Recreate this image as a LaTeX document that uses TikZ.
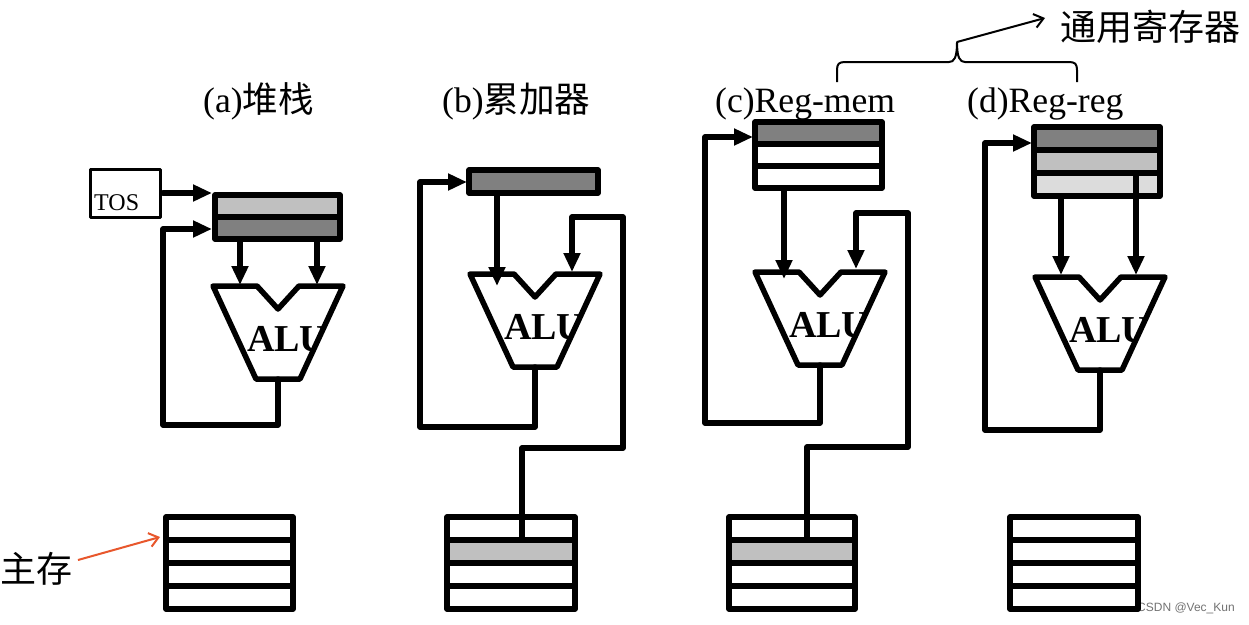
\documentclass[tikz,border=0pt]{standalone}
\usepackage{fontspec}
\setmainfont{Liberation Serif}
\newfontfamily\cjk{Noto Sans CJK SC}
\newfontfamily\wmfont{Liberation Sans}
\usetikzlibrary{arrows.meta}
\definecolor{darkreg}{HTML}{808080}
\definecolor{midreg}{HTML}{C0C0C0}
\definecolor{lightreg}{HTML}{DCDCDC}
\definecolor{memarrow}{HTML}{E8572C}
\tikzset{
  wire/.style={line width=5.5pt, line join=round, line cap=round},
  arr/.style={wire, -{Triangle[length=19pt,width=16pt]}},
  box/.style={line width=5.5pt, line join=round},
  alutext/.style={font=\fontsize{38}{40}\selectfont\bfseries, inner sep=0pt},
  lab/.style={font=\fontsize{35.6}{40}\selectfont, inner sep=0pt},
  thinline/.style={line width=2pt, line join=round},
}
\newcommand\drawalu[3]{%
  \coordinate (#3-top) at (#1,#2);
  \coordinate (#3-bot) at (#1,{#2+93});
  \begin{scope}
    \clip ({#1-65},#2) -- ({#1-21},#2) -- (#1,{#2+23}) -- ({#1+21},#2) -- ({#1+65},#2) -- ({#1+22},{#2+93}) -- ({#1-22},{#2+93}) -- cycle;
    \node[alutext, anchor=base west] (#3-txt) at ({#1-31},{#2+65}) {ALU};
  \end{scope}
  \draw[box] ({#1-65},#2) -- ({#1-21},#2) -- (#1,{#2+23}) -- ({#1+21},#2) -- ({#1+65},#2) -- ({#1+22},{#2+93}) -- ({#1-22},{#2+93}) -- cycle;
}
% memory block: #1 left x, #2 right x, #3 name, #4 fill of 2nd row
\newcommand\drawmem[4]{%
  \coordinate (#3-r1) at (#1,540);
  \fill[#4] (#1,540) rectangle (#2,563);
  \draw[box] (#1,517) rectangle (#2,609);
  \draw[box] (#1,540) -- (#2,540) (#1,563) -- (#2,563) (#1,586) -- (#2,586);
}
\begin{document}
\begin{tikzpicture}[x=1pt,y=-1pt]
\useasboundingbox (0,0) rectangle (1249,624);
\fill[white] (0,0) rectangle (1249,624);

% ---------------- labels ----------------
\node[lab, anchor=base west] (labA) at (203,112) {(a){\cjk 堆栈}};
\node[lab, anchor=base west] (labB) at (442,112) {(b){\cjk 累加器}};
\node[lab, anchor=base west] (labC) at (715,112) {(c)Reg-mem};
\node[lab, anchor=base west] (labD) at (967,112) {(d)Reg-reg};
\node[font=\cjk\fontsize{36}{40}\selectfont, inner sep=0pt, anchor=base west] (gpr) at (1060,40) {通用寄存器};
\node[font=\cjk\fontsize{36}{40}\selectfont, inner sep=0pt, anchor=base west] (mem) at (0,582) {主存};
\node[font=\wmfont\fontsize{12}{12}\selectfont, text=black!55, inner sep=0pt, anchor=base west] (wm) at (1137,611) {CSDN @Vec\_Kun};

% brace over (c),(d)
\coordinate (braceTip) at (957,42);
\coordinate (gprIn) at (1045,18);
\draw[thinline] (837,82) -- (837,70) .. controls (837,64) and (839,62) .. (845,62) -- (949,62)
  .. controls (954,62) and (957,58) .. (braceTip)
  .. controls (957,58) and (960,62) .. (965,62) -- (1069,62)
  .. controls (1075,62) and (1077,64) .. (1077,70) -- (1077,82);
\draw[thinline, -{Straight Barb[length=9pt,width=14pt]}] (braceTip) -- (gprIn);

% ---------------- (a) stack ----------------
\draw[line width=3pt, line join=round] (90,169) rectangle (160,217);
\node[font=\fontsize{24}{26}\selectfont, inner sep=0pt, anchor=base west] (tos) at (94,210) {TOS};
\fill[midreg] (215,195) rectangle (340,217);
\fill[darkreg] (215,217) rectangle (340,239);
\draw[box] (215,195) rectangle (340,239);
\draw[box] (215,217) -- (340,217);
\drawalu{278}{286}{aluA}
\coordinate (tosOut) at (163,193);
\coordinate (regAin1) at (212,193);
\coordinate (regAin2) at (212,229);
\coordinate (regAo1) at (240,242);
\coordinate (regAo2) at (317,242);
\coordinate (aluAi1) at (240,285);
\coordinate (aluAi2) at (317,285);
\draw[arr] (tosOut) -- (regAin1);
\draw[arr] (regAo1) -- (aluAi1);
\draw[arr] (regAo2) -- (aluAi2);
\draw[arr] (aluA-bot) -- (278,425) -- (163,425) -- (163,229) -- (regAin2);
\drawmem{166}{293}{memA}{white}
\coordinate (memAin) at (160,537);
\coordinate (memLabOut) at (78,560);
\draw[memarrow, line width=2pt, -{Straight Barb[length=9pt,width=14pt]}] (memLabOut) -- (memAin);

% ---------------- (b) accumulator ----------------
\fill[darkreg] (469,170) rectangle (598,193);
\draw[box] (469,170) rectangle (598,193);
\drawalu{535}{274}{aluB}
\drawmem{447}{575}{memB}{midreg}
\coordinate (regBin) at (467,182);
\coordinate (regBo) at (497,195);
\coordinate (aluBi1) at (497,286);
\coordinate (aluBi2) at (572,272);
\coordinate (memBo) at (522,540);
\draw[arr] (regBo) -- (aluBi1);
\draw[arr] (aluB-bot) -- (535,427) -- (420,427) -- (420,182) -- (regBin);
\draw[arr] (memBo) -- (522,448) -- (623,448) -- (623,217) -- (572,217) -- (aluBi2);

% ---------------- (c) reg-mem ----------------
\fill[darkreg] (755,122) rectangle (882,144);
\draw[box] (755,122) rectangle (882,188);
\draw[box] (755,144) -- (882,144) (755,166) -- (882,166);
\drawalu{820}{272}{aluC}
\drawmem{729}{855}{memC}{midreg}
\coordinate (regCin) at (753,137);
\coordinate (regCo) at (784,190);
\coordinate (aluCi1) at (784,279);
\coordinate (aluCi2) at (856,269);
\coordinate (memCo) at (807,540);
\draw[arr] (regCo) -- (aluCi1);
\draw[arr] (aluC-bot) -- (820,423) -- (705,423) -- (705,137) -- (regCin);
\draw[arr] (memCo) -- (807,447) -- (908,447) -- (908,213) -- (856,213) -- (aluCi2);

% ---------------- (d) reg-reg ----------------
\fill[darkreg] (1034,127) rectangle (1160,150);
\fill[midreg] (1034,150) rectangle (1160,173);
\fill[lightreg] (1034,173) rectangle (1160,196);
\draw[box] (1034,127) rectangle (1160,196);
\draw[box] (1034,150) -- (1160,150) (1034,173) -- (1160,173);
\drawalu{1100}{277}{aluD}
\drawmem{1010}{1138}{memD}{white}
\coordinate (regDin) at (1032,143);
\coordinate (regDo1) at (1061,198);
\coordinate (regDo2) at (1136,175);
\coordinate (aluDi1) at (1061,275);
\coordinate (aluDi2) at (1136,275);
\draw[arr] (regDo1) -- (aluDi1);
\draw[arr] (regDo2) -- (aluDi2);
\draw[arr] (aluD-bot) -- (1100,430) -- (985,430) -- (985,143) -- (regDin);
\end{tikzpicture}
\end{document}
